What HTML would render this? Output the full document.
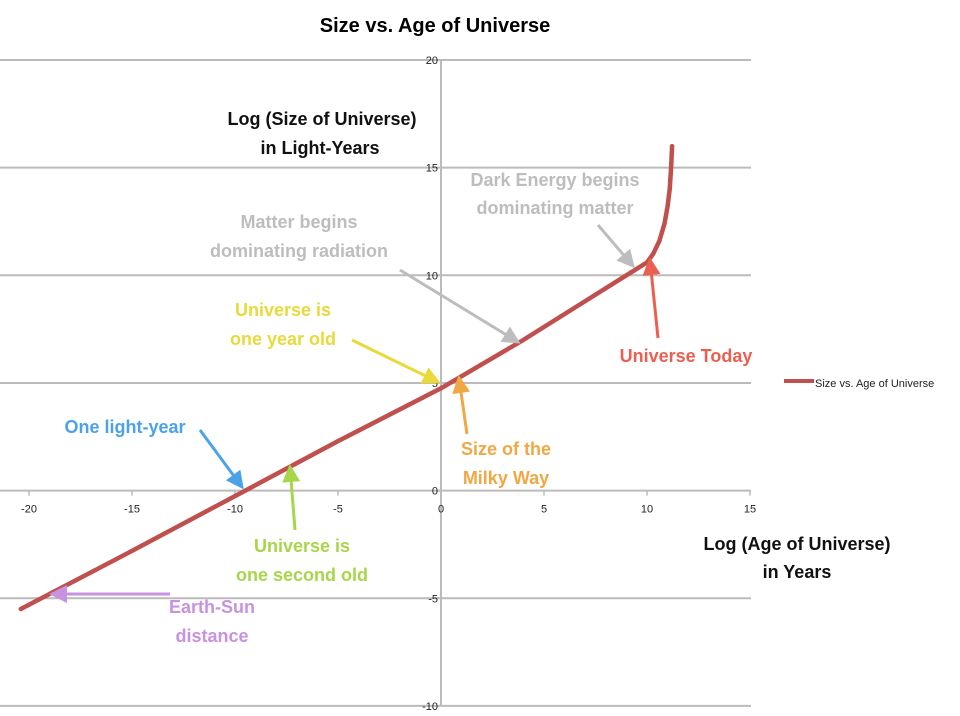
<!DOCTYPE html>
<html><head><meta charset="utf-8"><style>
body{margin:0;background:#fff;font-family:"Liberation Sans",sans-serif}
svg{display:block}
.lbl{font-weight:bold;font-size:18px;text-anchor:middle}
.tick{font-size:11px;fill:#222}
</style></head><body>
<svg width="960" height="716" id="svg">
<defs>
<marker id="ar" markerWidth="6" markerHeight="6" refX="5" refY="3" orient="auto" markerUnits="strokeWidth"><path d="M0,0 L6,3 L0,6 z" fill="context-stroke"/></marker>
</defs>
<text x="435" y="32" font-size="20" font-weight="bold" text-anchor="middle">Size vs. Age of Universe</text>
<g id="grid"></g>
<g id="curve"></g>
<g>
<text class="lbl" x="322" y="125" fill="#111">Log (Size of Universe)</text>
<text class="lbl" x="320" y="154" fill="#111">in Light-Years</text>
<text class="lbl" x="797" y="550" fill="#111">Log (Age of Universe)</text>
<text class="lbl" x="797" y="578" fill="#111">in Years</text>
<text class="lbl" x="555" y="186" fill="#bdbdbd">Dark Energy begins</text>
<text class="lbl" x="555" y="214" fill="#bdbdbd">dominating matter</text>
<line x1="598" y1="225" x2="633" y2="266" stroke="#bdbdbd" stroke-width="3" marker-end="url(#ar)"/>
<text class="lbl" x="299" y="228" fill="#bdbdbd">Matter begins</text>
<text class="lbl" x="299" y="257" fill="#bdbdbd">dominating radiation</text>
<line x1="400" y1="270" x2="518" y2="342" stroke="#bdbdbd" stroke-width="3" marker-end="url(#ar)"/>
<text class="lbl" x="283" y="316" fill="#e8da3a">Universe is</text>
<text class="lbl" x="283" y="345" fill="#e8da3a">one year old</text>
<line x1="352" y1="340" x2="438" y2="382" stroke="#e8da3a" stroke-width="3" marker-end="url(#ar)"/>
<text class="lbl" x="686" y="362" fill="#ec5f50">Universe Today</text>
<line x1="658" y1="338" x2="650" y2="260" stroke="#ec5f50" stroke-width="3" marker-end="url(#ar)"/>
<text class="lbl" x="506" y="455" fill="#f0a844">Size of the</text>
<text class="lbl" x="506" y="484" fill="#f0a844">Milky Way</text>
<line x1="467" y1="434" x2="459" y2="378" stroke="#f0a844" stroke-width="3" marker-end="url(#ar)"/>
<text class="lbl" x="125" y="433" fill="#4ca2e8">One light-year</text>
<line x1="200" y1="430" x2="242" y2="487" stroke="#4ca2e8" stroke-width="3" marker-end="url(#ar)"/>
<text class="lbl" x="302" y="552" fill="#a7d64a">Universe is</text>
<text class="lbl" x="302" y="581" fill="#a7d64a">one second old</text>
<line x1="295" y1="530" x2="290" y2="467" stroke="#a7d64a" stroke-width="3" marker-end="url(#ar)"/>
<text class="lbl" x="212" y="613" fill="#c792e0">Earth-Sun</text>
<text class="lbl" x="212" y="642" fill="#c792e0">distance</text>
<line x1="170" y1="594" x2="52" y2="594" stroke="#c792e0" stroke-width="3" marker-end="url(#ar)"/>
</g>
<g>
<line x1="784" y1="381" x2="814" y2="381" stroke="#c0504d" stroke-width="4"/>
<text x="815" y="387" font-size="11" fill="#222">Size vs. Age of Universe</text>
</g>
</svg>
<script>
const xTicks=[-20,-15,-10,-5,0,5,10,15];
const yTicks=[-10,-5,0,5,10,15,20];
const ageLog=[-20.4,-15,-9.5,-5,0,4,7,9,10,10.3,10.6,10.85,11.0,11.1,11.17,11.22];
const sizeLog=[-5.5,-2.8,0,2.3,4.75,7.0,8.8,10.0,10.6,11.0,11.6,12.4,13.2,14.0,15.0,16.0];
const X=v=>441+v*20.6;
const Y=v=>490.6-v*21.53;
const NS="http://www.w3.org/2000/svg";
const grid=document.getElementById('grid');
function mk(tag,attrs,parent){const e=document.createElementNS(NS,tag);for(const k in attrs)e.setAttribute(k,attrs[k]);parent.appendChild(e);return e;}
yTicks.forEach(t=>{
  const l=mk('line',{x1:0,x2:751,y1:Y(t),y2:Y(t),stroke:'#bbb','stroke-width':2},grid);
  
  
  const tx=mk('text',{x:X(0)-3,y:Y(t)+4,'text-anchor':'end',class:'tick'},grid);
  tx.textContent=t;
  
  
});
const ax=mk('line',{x1:X(0),x2:X(0),y1:Y(20),y2:Y(-10),stroke:'#bbb','stroke-width':2},grid);


xTicks.forEach(t=>{
  mk('line',{x1:X(t),x2:X(t),y1:Y(0),y2:Y(0)+5,stroke:'#bbb','stroke-width':1.5},grid);
  if(t===0)return;
  const tx=mk('text',{x:X(t),y:Y(0)+22,'text-anchor':'middle',class:'tick'},grid);
  tx.textContent=t;
  
  
});
const z=mk('text',{x:X(0),y:Y(0)+22,'text-anchor':'middle',class:'tick'},grid);z.textContent='0';


let d='';
ageLog.forEach((a,i)=>{d+=(i?'L':'M')+X(a).toFixed(1)+','+Y(sizeLog[i]).toFixed(1);});
const p=mk('path',{d:d,fill:'none',stroke:'#c0504d','stroke-width':4.5,'stroke-linejoin':'round','stroke-linecap':'round'},document.getElementById('curve'));


</script>
</body></html>
